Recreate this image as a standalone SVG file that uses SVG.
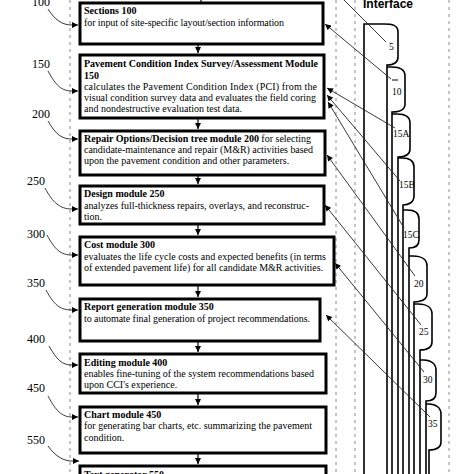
<svg xmlns="http://www.w3.org/2000/svg" width="474" height="474" viewBox="0 0 474 474">
<style>
.box{fill:#fff;stroke:#000;stroke-width:3}
.t{font-family:"Liberation Serif","Times New Roman",serif;font-size:10px;fill:#000}
.b{font-weight:bold}
.lbl{font-family:"Liberation Serif","Times New Roman",serif;font-size:12px;fill:#000}
.tab{font-family:"Liberation Serif","Times New Roman",serif;font-size:9.5px;fill:#000}
.dash{stroke:#8a8a8a;stroke-width:1;stroke-dasharray:3 4;fill:none}
.lead{fill:none;stroke:#222;stroke-width:0.9}
.flow{fill:none;stroke:#000;stroke-width:1.2}
.fold{fill:none;stroke:#000;stroke-width:1.6}
</style>
<defs>
<marker id="ah" viewBox="0 0 10 10" refX="10" refY="5" markerWidth="7" markerHeight="6" markerUnits="userSpaceOnUse" orient="auto"><path d="M0,0 L10,5 L0,10 z" fill="#000"/></marker>
</defs>
<rect width="474" height="474" fill="#fff"/>

<g id="guides">
<line class="dash" x1="70" y1="0" x2="70" y2="474"/>
<line class="dash" x1="336" y1="0" x2="336" y2="474"/>
<line class="dash" x1="355" y1="0" x2="355" y2="474"/>
<line class="dash" x1="449" y1="0" x2="449" y2="474"/>
</g>

<g id="folder">
<text x="363" y="8" style="font-family:'Liberation Sans',Arial,sans-serif;font-size:12px;font-weight:bold">Interface</text>
<path class="fold" d="M364 474 V24 H384 C392 24 398 25 398 32 V57 C398 63 393 65 387 65 V474"/>
<path class="fold" d="M387 67 H392 C400 67 405 70 405 76 V104 C405 110 399 112 392 112 V474"/>
<path class="fold" d="M392 114 H397 C405 114 410 117 410 123 V149 C410 155 404 157 398 157 V474"/>
<path class="fold" d="M398 158 H402 C410 158 414 161 414 167 V196 C414 202 409 205 403 205 V474"/>
<path class="fold" d="M403 210 H407 C415 210 419 213 419 219 V240 C419 246 414 248 409 248 V474"/>
<path class="fold" d="M409 256 H413 C422 256 427 260 427 266 V294 C427 300 420 302 414 302 V474"/>
<path class="fold" d="M414 304 H418 C427 304 432 308 432 314 V342 C432 348 426 350 420 350 V474"/>
<path class="fold" d="M420 360 H424 C431 360 436 364 436 370 V393 C436 399 431 401 426 401 V474"/>
<path class="fold" d="M426 404 H429 C436 404 441 408 441 414 V442 C441 448 435 450 429 450 V474"/>
<text class="tab" x="389" y="50">5</text>
<line x1="392" y1="80" x2="398" y2="80" stroke="#000" stroke-width="1"/>
<text class="tab" x="392" y="95">10</text>
<text class="tab" x="393" y="137">15A</text>
<text class="tab" x="399" y="188">15B</text>
<text class="tab" x="403" y="238">15C</text>
<text class="tab" x="414" y="287">20</text>
<text class="tab" x="419" y="335">25</text>
<text class="tab" x="423" y="383">30</text>
<text class="tab" x="428" y="427">35</text>
</g>

<g id="n100">
<rect class="box" x="80" y="3" width="243" height="41"/>
<text class="t b" x="84" y="14">Sections 100</text>
<text class="t" x="84" y="26" textLength="200" lengthAdjust="spacing">for input of site-specific layout/section information</text>
</g>
<g id="n150">
<rect class="box" x="80" y="55" width="244" height="63"/>
<text class="t b" x="84" y="67">Pavement Condition Index Survey/Assessment Module</text>
<text class="t b" x="84" y="79">150</text>
<text class="t" x="84" y="90" textLength="233" lengthAdjust="spacing">calculates the Pavement Condition Index (PCI) from the</text>
<text class="t" x="84" y="101" textLength="232" lengthAdjust="spacing">visual condition survey data and evaluates the field coring</text>
<text class="t" x="84" y="112">and nondestructive evaluation test data.</text>
</g>
<g id="n200">
<rect class="box" x="80" y="131" width="245" height="44"/>
<text class="t" x="84" y="142" textLength="227" lengthAdjust="spacing"><tspan class="b">Repair Options/Decision tree module 200</tspan> for selecting</text>
<text class="t" x="84" y="153" textLength="229" lengthAdjust="spacing">candidate-maintenance and repair (M&amp;R) activities based</text>
<text class="t" x="84" y="164">upon the pavement condition and other parameters.</text>
</g>
<g id="n250">
<rect class="box" x="80" y="186" width="244" height="38"/>
<text class="t b" x="84" y="197">Design module 250</text>
<text class="t" x="84" y="209" textLength="225" lengthAdjust="spacing">analyzes full-thickness repairs, overlays, and reconstruc-</text>
<text class="t" x="84" y="220">tion.</text>
</g>
<g id="n300">
<rect class="box" x="80" y="237" width="254" height="48"/>
<text class="t b" x="84" y="248">Cost module 300</text>
<text class="t" x="84" y="260" textLength="242" lengthAdjust="spacing">evaluates the life cycle costs and expected benefits (in terms</text>
<text class="t" x="84" y="271" textLength="239" lengthAdjust="spacing">of extended pavement life) for all candidate M&amp;R activities.</text>
</g>
<g id="n350">
<rect class="box" x="80" y="299" width="240" height="42"/>
<text class="t b" x="84" y="310">Report generation module 350</text>
<text class="t" x="84" y="322" textLength="226" lengthAdjust="spacing">to automate final generation of project recommendations.</text>
</g>
<g id="n400">
<rect class="box" x="80" y="354" width="246" height="39"/>
<text class="t b" x="84" y="366">Editing module 400</text>
<text class="t" x="84" y="377" textLength="230" lengthAdjust="spacing">enables fine-tuning of the system recommendations based</text>
<text class="t" x="84" y="388">upon CCI's experience.</text>
</g>
<g id="n450">
<rect class="box" x="80" y="407" width="246" height="46"/>
<text class="t b" x="84" y="418">Chart module 450</text>
<text class="t" x="84" y="429" textLength="228" lengthAdjust="spacing">for generating bar charts, etc. summarizing the pavement</text>
<text class="t" x="84" y="441">condition.</text>
</g>
<g id="n550">
<rect class="box" x="80" y="466" width="246" height="30"/>
<text class="t b" x="84" y="478">Text generator 550</text>
</g>

<g id="labels">
<text class="lbl" x="32" y="6">100</text>
<text class="lbl" x="32" y="68">150</text>
<text class="lbl" x="32" y="118">200</text>
<text class="lbl" x="27" y="185">250</text>
<text class="lbl" x="27" y="238">300</text>
<text class="lbl" x="27" y="287">350</text>
<text class="lbl" x="27" y="343">400</text>
<text class="lbl" x="27" y="392">450</text>
<text class="lbl" x="27" y="444">550</text>
</g>

<g id="connectors">
<line class="flow" x1="201" y1="0" x2="201" y2="2"/>
<line class="flow" x1="198" y1="45" x2="198" y2="53" marker-end="url(#ah)"/>
<line class="flow" x1="198" y1="119" x2="198" y2="129" marker-end="url(#ah)"/>
<line class="flow" x1="198" y1="176" x2="198" y2="184" marker-end="url(#ah)"/>
<line class="flow" x1="198" y1="225" x2="198" y2="235" marker-end="url(#ah)"/>
<line class="flow" x1="198" y1="286" x2="198" y2="297" marker-end="url(#ah)"/>
<line class="flow" x1="198" y1="342" x2="198" y2="352" marker-end="url(#ah)"/>
<line class="flow" x1="198" y1="394" x2="198" y2="405" marker-end="url(#ah)"/>
<line class="flow" x1="198" y1="454" x2="198" y2="464" marker-end="url(#ah)"/>

<path class="lead" d="M48 9 C55 20 62 25 72 25 L78 25" marker-end="url(#ah)"/>
<path class="lead" d="M48 71 C56 86 62 91 72 91 L78 91" marker-end="url(#ah)"/>
<path class="lead" d="M48 121 C56 135 62 139 72 139 L78 139" marker-end="url(#ah)"/>
<path class="lead" d="M45 188 C53 203 60 209 72 209 L78 209" marker-end="url(#ah)"/>
<path class="lead" d="M47 235 C55 250 61 255 72 255 L78 255" marker-end="url(#ah)"/>
<path class="lead" d="M46 290 C54 305 60 310 72 310 L78 310" marker-end="url(#ah)"/>
<path class="lead" d="M49 346 C57 360 62 365 72 365 L78 365" marker-end="url(#ah)"/>
<path class="lead" d="M48 396 C56 411 62 417 72 417 L78 417" marker-end="url(#ah)"/>
<path class="lead" d="M48 446 C56 457 64 461 72 461 L79 461" marker-end="url(#ah)"/>

<line class="lead" x1="386" y1="42" x2="340" y2="-4"/>
<line class="lead" x1="391" y1="79" x2="325" y2="24" marker-end="url(#ah)"/>
<line class="lead" x1="395" y1="128" x2="327" y2="88" marker-end="url(#ah)"/>
<line class="lead" x1="400" y1="181" x2="327" y2="95" marker-end="url(#ah)"/>
<line class="lead" x1="404" y1="228" x2="328" y2="102" marker-end="url(#ah)"/>
<line class="lead" x1="415" y1="276" x2="327" y2="155" marker-end="url(#ah)"/>
<line class="lead" x1="421" y1="325" x2="325" y2="205" marker-end="url(#ah)"/>
<line class="lead" x1="424" y1="372" x2="335" y2="263" marker-end="url(#ah)"/>
<line class="lead" x1="430" y1="417" x2="326" y2="315" marker-end="url(#ah)"/>
</g>
</svg>
